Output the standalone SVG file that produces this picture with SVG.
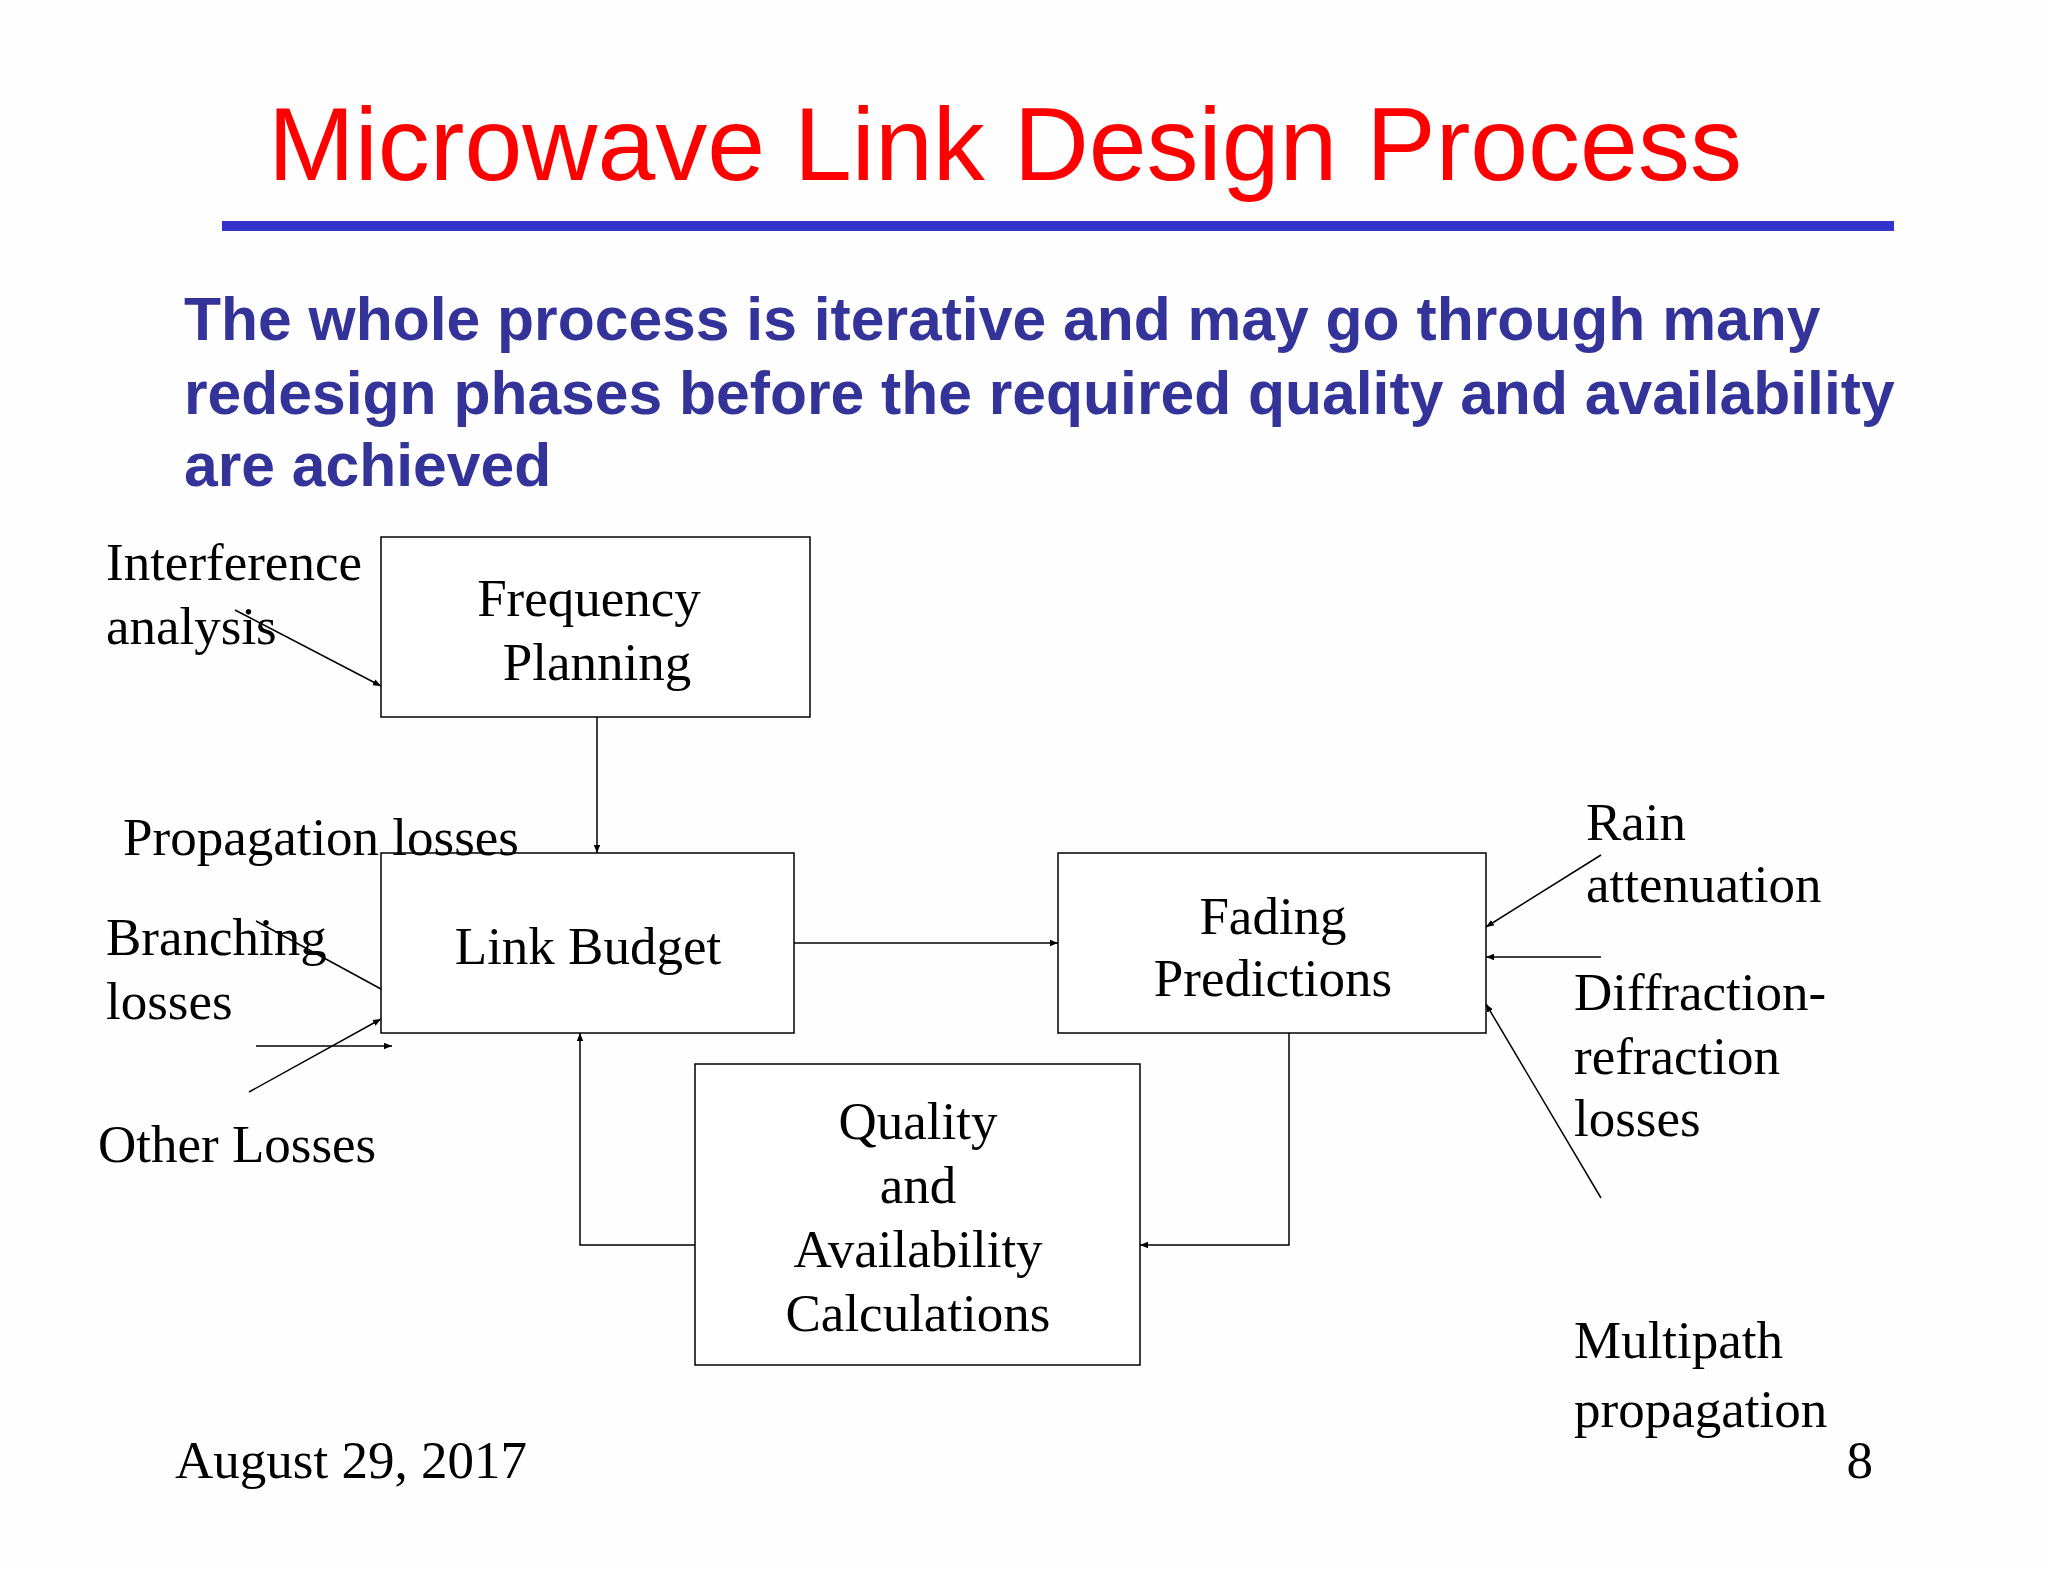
<svg xmlns="http://www.w3.org/2000/svg" width="2048" height="1570" viewBox="0 0 2048 1570">
<defs>
<style>
.t{font-family:"Liberation Serif",serif;font-size:53px;fill:#000}
.c{text-anchor:middle}
.b{fill:#fff;stroke:#000;stroke-width:1.5}
.l{stroke:#000;stroke-width:1.5;fill:none}
.s{font-family:"Liberation Sans",Arial,sans-serif;font-weight:bold;font-size:60.6px;fill:#333399}
</style>
<marker id="a" viewBox="0 0 10 10" refX="10" refY="5" markerWidth="8" markerHeight="8" orient="auto" markerUnits="userSpaceOnUse"><path d="M0,1 L10,5 L0,9 z" fill="#000"/></marker>
</defs>
<rect width="2048" height="1570" fill="#fefefe"/>
<text x="1005" y="180" text-anchor="middle" font-family="Liberation Sans,Arial,sans-serif" font-size="104" fill="#ff0000">Microwave Link Design Process</text>
<rect x="222" y="221" width="1672" height="10" fill="#3333cc"/>
<text class="s" x="184" y="340">The whole process is iterative and may go through many</text>
<text class="s" x="184" y="414">redesign phases before the required quality and availability</text>
<text class="s" x="184" y="486">are achieved</text>
<g id="fp"><rect class="b" x="381" y="537" width="429" height="180"/><text class="t c" x="589" y="616">Frequency</text><text class="t c" x="597" y="680">Planning</text></g>
<g id="lb"><rect class="b" x="381" y="853" width="413" height="180"/><text class="t c" x="588" y="964">Link Budget</text></g>
<g id="fad"><rect class="b" x="1058" y="853" width="428" height="180"/><text class="t c" x="1273" y="934">Fading</text><text class="t c" x="1273" y="996">Predictions</text></g>
<g id="q"><rect class="b" x="695" y="1064" width="445" height="301"/><text class="t c" x="918" y="1139">Quality</text><text class="t c" x="918" y="1203">and</text><text class="t c" x="918" y="1267">Availability</text><text class="t c" x="918" y="1331">Calculations</text></g>
<g id="connectors">
<path class="l" d="M597,717 V853" marker-end="url(#a)"/>
<path class="l" d="M794,943 H1058" marker-end="url(#a)"/>
<path class="l" d="M1289,1033 V1245 H1140" marker-end="url(#a)"/>
<path class="l" d="M695,1245 H580 V1033" marker-end="url(#a)"/>
<path class="l" d="M235,610 L381,686" marker-end="url(#a)"/>
<path class="l" d="M256,921 L381,989"/>
<path class="l" d="M256,1046 H392" marker-end="url(#a)"/>
<path class="l" d="M249,1092 L381,1019" marker-end="url(#a)"/>
<path class="l" d="M1601,855 L1486,927" marker-end="url(#a)"/>
<path class="l" d="M1601,957 H1486" marker-end="url(#a)"/>
<path class="l" d="M1601,1198 L1486,1004" marker-end="url(#a)"/>
</g>
<g id="labels">
<text class="t" x="106" y="580">Interference</text><text class="t" x="106" y="644">analysis</text>
<text class="t" x="123" y="855">Propagation losses</text>
<text class="t" x="106" y="955">Branching</text><text class="t" x="106" y="1019">losses</text>
<text class="t" x="98" y="1162">Other Losses</text>
<text class="t" x="1586" y="840">Rain</text><text class="t" x="1586" y="902">attenuation</text>
<text class="t" x="1574" y="1010">Diffraction-</text><text class="t" x="1574" y="1074">refraction</text><text class="t" x="1574" y="1136">losses</text>
<text class="t" x="1574" y="1358" font-size="54">Multipath</text><text class="t" x="1574" y="1427" font-size="54">propagation</text>
<text class="t" x="175" y="1478" font-size="29">August 29, 2017</text>
<text class="t" x="1873" y="1478" font-size="29" text-anchor="end">8</text>
</g>
</svg>
